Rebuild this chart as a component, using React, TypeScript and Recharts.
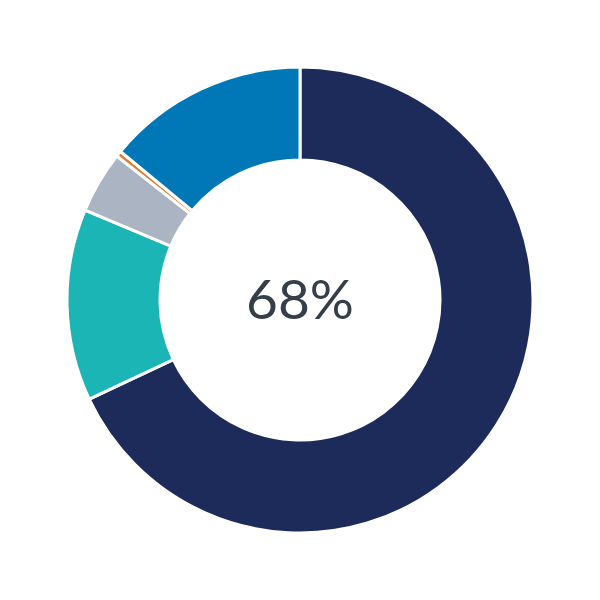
import React from "react";
import { PieChart, Pie, Cell } from "recharts";

const categories = ["Navy", "Teal", "Gray", "Orange", "Blue"];
const shares = [68.0, 13.3, 4.3, 0.4, 14.0];
const sliceColors = ["#1c2b5a", "#1cb5b6", "#aab4c2", "#e07a2e", "#0077b6"];
const centerLabel = "68%";

const data = categories.map((name, i) => ({ name, value: shares[i] }));

export default function App() {
  return (
    <div style={{ position: "absolute", left: 0, top: 0, width: 600, height: 600, background: "#fff" }}>
      <PieChart width={600} height={600} margin={{ top: 0, right: 0, bottom: 0, left: 0 }}>
        <Pie
          data={data}
          dataKey="value"
          nameKey="name"
          cx={300}
          cy={300}
          innerRadius={140}
          outerRadius={233}
          startAngle={90}
          endAngle={-270}
          stroke="#ffffff"
          strokeWidth={3}
          isAnimationActive={false}
        >
          {data.map((d, i) => (
            <Cell key={d.name} fill={sliceColors[i]} />
          ))}
        </Pie>
        <text
          x={300}
          y={298}
          textAnchor="middle"
          dominantBaseline="central"
          fontFamily="Lato, 'Open Sans', sans-serif"
          fontSize={55}
          fill="#343f4a"
        >
          {centerLabel}
        </text>
      </PieChart>
    </div>
  );
}
